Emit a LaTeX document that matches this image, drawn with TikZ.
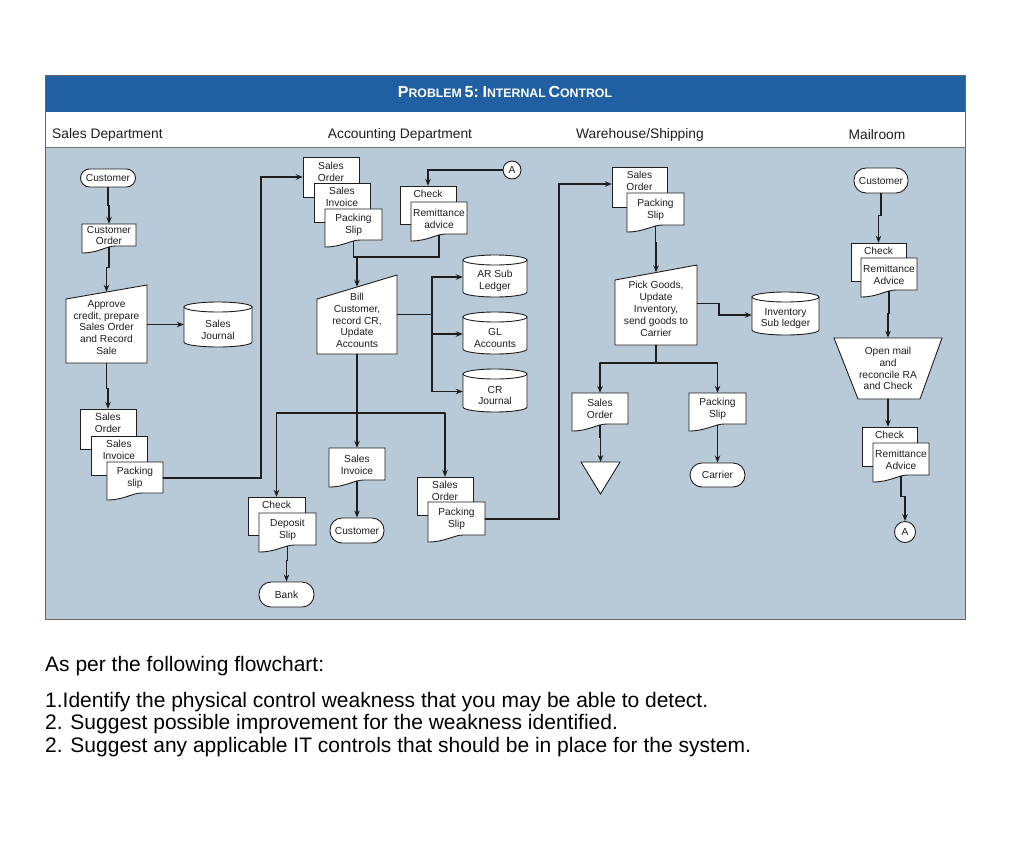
\documentclass[tikz,border=0pt]{standalone}
\usepackage{fontspec}
\setmainfont{Liberation Sans}
\usetikzlibrary{arrows.meta,calc}
\definecolor{barblue}{HTML}{1F5FA2}
\definecolor{bodyblue}{HTML}{B8CAD7}
\definecolor{ink}{HTML}{1E1E1E}
\tikzset{
  shp/.style={draw=ink, fill=white, line width=0.9pt},
  txt/.style={inner sep=0pt, align=center, text=ink, font=\fontsize{10.2}{11.8}\selectfont},
  term/.style={shp, txt, rounded corners=#1},
  conn/.style={shp, txt, circle, inner sep=0pt},
  ln/.style={draw=ink, line width=1.3pt, line cap=round},
  arr/.style={ln, -{Stealth[length=7pt,width=5.5pt]}},
}
% wavy-bottom document: name x1 y1 x2 y2 text
\newcommand{\wdoc}[6]{%
  \filldraw[shp] (#2,#3) -- (#4,#3) -- (#4,#5-7) -- ({#2+0.62*(#4-#2)},#5-7) .. controls ({#2+0.45*(#4-#2)},#5-7) and ({#2+0.3*(#4-#2)},#5) .. (#2,#5) -- cycle;
  \node[txt, minimum width={(#4-#2)*1pt}, minimum height={(#5-#3-6)*1pt}] (#1) at ({(#2+#4)/2},{(#3+#5-6)/2}) {#6};}
% document partly hidden behind another: name x1 y1 x2 y2 textheight text
\newcommand{\bdoc}[7]{%
  \filldraw[shp] (#2,#3) rectangle (#4,#5);
  \node[txt, minimum width={(#4-#2)*1pt}, minimum height={#6*1pt}] (#1) at ({(#2+#4)/2},{#3+#6/2}) {#7};}
% cylinder: name x1 y1 x2 y2 text
\newcommand{\cyl}[6]{%
  \filldraw[shp] (#2,#3+5) -- (#2,#5-5) .. controls (#2,{#5-5+0.552*5}) and ({(#2+#4)/2-0.552*(#4-#2)/2},#5) .. ({(#2+#4)/2},#5) .. controls ({(#2+#4)/2+0.552*(#4-#2)/2},#5) and (#4,{#5-5+0.552*5}) .. (#4,#5-5) -- (#4,#3+5) -- cycle;
  \filldraw[shp] ({(#2+#4)/2},#3+5) ellipse [x radius={(#4-#2)/2*1pt}, y radius=5pt];
  \node[txt, minimum width={(#4-#2)*1pt}, minimum height={(#5-#3-10)*1pt}] (#1) at ({(#2+#4)/2},{(#3+10+#5)/2}) {#6};}
% manual input (slanted top): name x1 yleft x2 yright ybottom text
\newcommand{\proc}[7]{%
  \filldraw[shp] (#2,#3) -- (#4,#5) -- (#4,#6) -- (#2,#6) -- cycle;
  \node[txt, minimum width={(#4-#2)*1pt}, minimum height={(#6-(#3+#5)/2)*1pt}] (#1) at ({(#2+#4)/2},{((#3+#5)/2+#6)/2}) {#7};}
\newcommand{\smc}[2]{{\fontsize{16}{16}\selectfont #1}{\fontsize{12.3}{12.3}\selectfont #2}}
\begin{document}
\begin{tikzpicture}[x=1pt,y=-1pt]
\useasboundingbox (0,0) rectangle (1024,854);
\fill[white] (0,0) rectangle (1024,854);
% frame
\fill[barblue] (45,75) rectangle (965,112);
\fill[white] (45,112) rectangle (965,147);
\fill[bodyblue] (45,147) rectangle (965,619);
\draw[black!55, line width=0.8pt] (45,147) -- (965,147);
\draw[black!60, line width=0.8pt] (45,75) rectangle (965,619);
\node[text=white, font=\bfseries] (title) at (505,92) {\smc{P}{ROBLEM} \smc{5:}{} \smc{I}{NTERNAL} \smc{C}{ONTROL}};
\begin{scope}[every node/.style={font=\fontsize{13.8}{14}\selectfont, text=ink, inner sep=0pt}]
\node[anchor=west] (dsales) at (52,135) {Sales Department};
\node (dacc) at (400,135) {Accounting Department};
\node (dware) at (640,135) {Warehouse/Shipping};
\node (dmail) at (877,135) {Mailroom};
\end{scope}

% ---------- Sales department ----------
\node[term=9pt, minimum width=55pt, minimum height=18pt] (cust1) at (108,178) {Customer};
\wdoc{co}{82}{224}{136}{253}{Customer\\Order}
\proc{approve}{66}{299}{147}{285}{363}{Approve\\credit, prepare\\Sales Order\\and Record\\Sale}
\cyl{sj}{184}{302}{252}{347}{Sales\\Journal}
\bdoc{so1}{80}{409}{136}{449}{28}{Sales\\Order}
\bdoc{si1}{91}{436}{147}{475}{28}{Sales\\Invoice}
\wdoc{ps1}{107}{462}{163}{500}{Packing\\slip}

% ---------- Accounting department ----------
\bdoc{so2}{303}{157}{359}{197}{30}{Sales\\Order}
\bdoc{si2b}{314}{183}{370}{222}{28}{Sales\\Invoice}
\wdoc{ps2}{325}{209}{382}{247}{Packing\\Slip}
\bdoc{chk1}{400}{186}{456}{224}{16}{Check}
\wdoc{ra1}{411}{202}{467}{241}{Remittance\\advice}
\node[conn, minimum size=18pt] (A1) at (512,170) {A};
\proc{bill}{317}{299}{397}{275}{354}{Bill\\Customer,\\record CR,\\Update\\Accounts}
\cyl{ar}{463}{255}{527}{297}{AR Sub\\Ledger}
\cyl{gl}{463}{312}{527}{354}{GL\\Accounts}
\cyl{cr}{463}{369}{527}{412}{CR\\Journal}
\wdoc{si2}{329}{448}{385}{487}{Sales\\Invoice}
\node[term=12pt, minimum width=54pt, minimum height=25pt] (cust2) at (357,530.5) {Customer};
\bdoc{chk2}{248}{497}{305}{535}{16}{Check}
\wdoc{dep}{259}{513}{316}{552}{Deposit\\Slip}
\node[term=12pt, minimum width=55pt, minimum height=25pt] (bank) at (286.5,594.5) {Bank};
\bdoc{so3}{417}{477}{473}{515}{28}{Sales\\Order}
\wdoc{ps3}{428}{502}{485}{542}{Packing\\Slip}

% ---------- Warehouse / Shipping ----------
\bdoc{so4}{612}{167}{667}{207}{28}{Sales\\Order}
\wdoc{ps4}{627}{193}{684}{232}{Packing\\Slip}
\proc{pick}{615}{280}{697}{265}{345}{Pick Goods,\\Update\\Inventory,\\send goods to\\Carrier}
\cyl{inv}{752}{292}{819}{335}{Inventory\\Sub ledger}
\wdoc{so5}{572}{393}{628}{431}{Sales\\Order}
\wdoc{ps5}{689}{393}{746}{431}{Packing\\Slip}
\filldraw[shp] (581,462) -- (620,462) -- (600.5,494) -- cycle;
\coordinate (file) at (600.5,462);
\node[term=12pt, minimum width=55pt, minimum height=24pt] (carrier) at (717.5,475) {Carrier};

% ---------- Mailroom ----------
\node[term=12pt, minimum width=54pt, minimum height=25pt] (cust3) at (881,180.5) {Customer};
\bdoc{chk3}{851}{243}{906}{281}{16}{Check}
\wdoc{ra3}{861}{258}{917}{297}{Remittance\\Advice}
\filldraw[shp] (834,338) -- (942,338) -- (920,399) -- (858,399) -- cycle;
\node[txt, minimum width=108pt, minimum height=61pt] (open) at (888,368.5) {Open mail\\and\\reconcile RA\\and Check};
\bdoc{chk4}{862}{427}{917}{466}{16}{Check}
\wdoc{ra4}{873}{443}{929}{482}{Remittance\\Advice}
\node[conn, minimum size=21pt] (A2) at (905,532) {A};

% ---------- connectors ----------
\coordinate (c1) at (261,0);
\coordinate (c2) at (559,0);
\coordinate (c3) at (719,0);
\coordinate (bus) at (432,0);
\coordinate (bar) at (0,413);
\coordinate (split) at (0,363);
\coordinate (j1) at (354,257);
\coordinate (so2in) at ([yshift=-5pt]so2.west);
\coordinate (so4in) at ([yshift=-3pt]so4.west);
\coordinate (bi) at ([yshift=6pt]bill.east);
\coordinate (ari) at ([yshift=4pt]ar.west);
\coordinate (gli) at ([yshift=4pt]gl.west);
\coordinate (cri) at ([yshift=4pt]cr.west);
\coordinate (pe) at ([yshift=5pt]pick.east);
\coordinate (ini) at ([yshift=3.5pt]inv.west);

\draw[arr] (cust1.south) -- ++(0,18) -| (co.north);
\draw[arr] (co.south) -- ++(0,20) -| (approve.north);
\draw[arr] ([yshift=3pt]approve.east) -- ([yshift=3pt]approve.east -| sj.west);
\draw[arr] (approve.south) -- ++(0,25) -| (so1.north);
\draw[arr] (ps1.east) -- (ps1.east -| c1) -- (so2in -| c1) -- (so2in);

\draw[arr] (A1.west) -| (chk1.north);
\draw[ln] (ra1.south) |- (j1);
\draw[arr] (ps2.south) -- (ps2.south |- j1) -| (bill.north);
\draw[ln] (bi) -- (bi -| bus);
\draw[arr] (cri -| bus) -- (ari -| bus) -- (ari);
\draw[arr] (gli -| bus) -- (gli);
\draw[arr] (cri -| bus) -- (cri);
\draw[arr] (bill.south) -- (si2.north);
\draw[ln] (chk2.north |- bar) -- (so3.north |- bar);
\draw[arr] (chk2.north |- bar) -- (chk2.north);
\draw[arr] (so3.north |- bar) -- (so3.north);
\draw[arr] (si2.south) -- ++(0,14) -| (cust2.north);
\draw[arr] (dep.south) -- ++(0,14) -| (bank.north);
\draw[arr] (ps3.east) -- (ps3.east -| c2) -- (so4in -| c2) -- (so4in);

\draw[arr] (ps4.south) -- ++(0,16) -| (pick.north);
\draw[arr] (pe) -- (pe -| c3) -- (ini -| c3) -- (ini);
\draw[ln] (pick.south) -- (pick.south |- split);
\draw[ln] (so5.north |- split) -- (ps5.north |- split);
\draw[arr] (so5.north |- split) -- (so5.north);
\draw[arr] (ps5.north |- split) -- (ps5.north);
\draw[arr] (so5.south) -- ++(0,12) -| (file);
\draw[arr] (ps5.south) -- ++(0,12) -| (carrier.north);

\draw[arr] (cust3.south) -- ++(0,22) -| (chk3.north);
\draw[arr] (ra3.south) -- ++(0,22) -| (open.north);
\draw[arr] (open.south) -- (open.south |- chk4.north);
\draw[arr] (ra4.south) -- ++(0,20) -| (A2.north);

% ---------- question text ----------
\begin{scope}[every node/.style={anchor=base west, inner sep=0pt, font=\fontsize{21}{21}\selectfont}]
\node (q0) at (45,671) {As per the following flowchart:};
\node (q1) at (45,707) {1.Identify the physical control weakness that you may be able to detect.};
\node (q2) at (45,729) {2. Suggest possible improvement for the weakness identified.};
\node (q3) at (45,752) {2. Suggest any applicable IT controls that should be in place for the system.};
\end{scope}
\end{tikzpicture}
\end{document}
